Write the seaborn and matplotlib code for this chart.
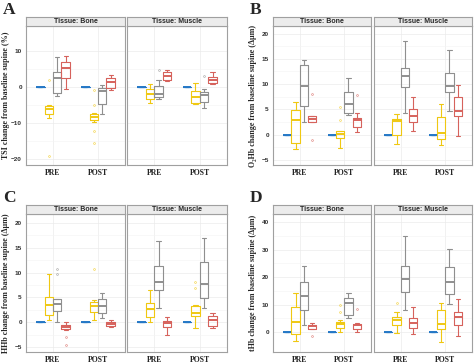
import matplotlib
matplotlib.use("Agg")
import matplotlib.pyplot as plt
import numpy as np
import pandas as pd
import seaborn as sns

# groups drawn in each time point (blue = baseline supine, always zero)
GROUPS = ["G0", "G1", "G2", "G3"]
COLORS = ["#2578c6", "#efc812", "#8f8f8f", "#d6625c"]
TIMES = ["PRE", "POST"]
TISSUES = ["Bone", "Muscle"]

# each box: (lower whisker, q1, median, q3, upper whisker, outliers)
# listed for groups G1, G2, G3 ; G0 is all zeros
BASELINE = (0.0, 0.0, 0.0, 0.0, 0.0, [])

TSI_BONE = {
    "PRE": [(-8.5, -7.6, -6.2, -5.2, -5.0, [1.9, -19.1]),
            (-2.6, -1.7, 2.4, 4.2, 8.4, []),
            (-0.6, 2.4, 5.3, 7.0, 8.6, [])],
    "POST": [(-9.6, -9.2, -8.2, -7.6, -7.2, [-0.8, -4.9, -12.2, -15.6]),
             (-7.6, -4.8, -1.1, -0.2, 0.6, []),
             (-0.8, -0.2, 1.5, 2.4, 3.4, [])],
}
TSI_MUSCLE = {
    "PRE": [(-4.4, -3.4, -2.0, -0.6, 0.8, []),
            (-3.3, -2.7, -2.0, 0.2, 1.9, [4.7]),
            (1.8, 2.1, 3.1, 4.3, 4.7, [])],
    "POST": [(-4.6, -4.4, -2.7, -1.0, 1.2, []),
             (-5.9, -4.1, -2.2, -1.3, -0.6, [3.1]),
             (0.8, 1.2, 2.1, 2.9, 4.3, [])],
}

O2HB_BONE = {
    "PRE": [(-2.8, -1.7, 2.9, 4.8, 6.4, []),
            (2.6, 5.6, 9.6, 13.8, 14.7, []),
            (2.6, 2.6, 3.1, 3.6, 3.6, [8.1, -1.1])],
    "POST": [(-2.6, -0.7, 0.1, 0.7, 0.7, [5.4, 3.0]),
             (3.8, 4.2, 6.1, 8.4, 11.3, []),
             (0.5, 1.5, 3.0, 3.3, 4.2, [7.9])],
}
O2HB_MUSCLE = {
    "PRE": [(-1.9, 0.0, 2.7, 3.1, 4.0, []),
            (4.2, 9.5, 11.7, 13.2, 18.5, []),
            (0.8, 2.6, 3.6, 5.1, 7.4, [])],
    "POST": [(-2.0, -0.9, 0.3, 3.4, 6.1, []),
             (4.6, 8.4, 9.7, 12.2, 16.8, []),
             (-0.2, 3.6, 4.6, 7.4, 9.9, [])],
}

HHB_BONE = {
    "PRE": [(0.5, 1.5, 3.4, 5.1, 9.7, []),
            (0.1, 2.3, 3.6, 4.6, 4.6, [10.7, 9.7]),
            (-1.6, -1.4, -0.9, -0.5, 0.0, [-3.0, -4.6])],
    "POST": [(0.5, 2.1, 3.2, 4.1, 4.4, [10.7]),
             (0.9, 1.8, 3.2, 4.6, 5.9, []),
             (-0.9, -0.7, -0.3, 0.1, 0.5, [])],
}
HHB_MUSCLE = {
    "PRE": [(0.1, 1.1, 2.6, 3.8, 6.4, []),
            (2.8, 6.4, 8.1, 11.4, 16.4, []),
            (-2.5, -0.9, -0.2, 0.3, 1.1, [])],
    "POST": [(-1.2, 1.3, 1.9, 3.2, 3.4, [8.1, 6.8]),
             (2.8, 4.8, 7.6, 12.1, 16.9, []),
             (-1.2, -0.7, 0.5, 1.3, 1.8, [])],
}

THB_BONE = {
    "PRE": [(-3.2, -0.8, 3.6, 9.2, 14.3, []),
            (2.7, 8.0, 13.1, 18.1, 24.2, []),
            (1.2, 1.2, 2.1, 2.6, 3.2, [-1.2])],
    "POST": [(-0.1, 1.5, 3.1, 3.7, 4.4, [9.9, 7.5]),
             (5.1, 6.3, 10.8, 12.6, 14.2, []),
             (0.1, 1.3, 2.5, 3.1, 3.4, [8.5])],
}
THB_MUSCLE = {
    "PRE": [(-0.4, 2.7, 4.5, 5.7, 7.4, [10.5]),
            (8.0, 14.7, 19.5, 24.2, 35.0, []),
            (-0.6, 1.6, 3.3, 5.0, 9.0, [])],
    "POST": [(-3.6, 1.2, 3.0, 8.1, 10.5, []),
             (10.1, 14.0, 18.3, 23.6, 30.4, []),
             (-1.4, 2.7, 5.6, 7.4, 11.9, [])],
}

W, H = 474, 364
SERIF = ["Liberation Serif", "DejaVu Serif"]
SANS = ["Liberation Sans", "DejaVu Sans"]


def box_sample(lo, q1, med, q3, hi, out):
    # observations whose quartiles / whiskers / outliers are the read values
    low = sorted(v for v in out if v < q1)
    high = sorted(v for v in out if v > q3)
    m = max(len(low), len(high)) + 1
    return (low + [lo] * (m - len(low)) + [q1] * m + [med]
            + [q3] * m + [hi] * (m - len(high)) + high)


def to_frame(bone, muscle):
    rows = []
    for tissue, d in zip(TISSUES, [bone, muscle]):
        for time in TIMES:
            for g, box in zip(GROUPS, [BASELINE] + d[time]):
                for v in box_sample(*box):
                    rows.append((tissue, time, g, v))
    return pd.DataFrame(rows, columns=["tissue", "time", "group", "value"])


def rect(x0, y0, x1, y1):
    return [x0 / W, 1 - y1 / H, (x1 - x0) / W, (y1 - y0) / H]


def draw_panel(fig, letter, ylabel, bone, muscle, ylim, yticks, xs, ytop,
               plot_h=139):
    df = to_frame(bone, muscle)
    strip_h = 9
    plot_bottom = ytop + strip_h + plot_h
    for i, tissue in enumerate(TISSUES):
        x0, x1 = xs[i]
        ax = fig.add_axes(rect(x0, ytop + strip_h, x1, plot_bottom))
        sax = fig.add_axes(rect(x0, ytop, x1, ytop + strip_h))
        sns.boxplot(data=df[df.tissue == tissue], x="time", y="value",
                    hue="group", order=TIMES, hue_order=GROUPS,
                    palette=COLORS, fill=False, width=0.75, linewidth=0.8,
                    flierprops={"marker": "o", "markersize": 1.3,
                                "markeredgewidth": 0.5, "alpha": 0.7},
                    medianprops={"linewidth": 1.4},
                    legend=False, ax=ax)
        ax.set_xlim(-0.6, 1.6)
        ax.set_ylim(*ylim)
        ax.set_yticks(yticks)
        ax.set_yticks([(a + b) / 2 for a, b in zip(yticks[:-1], yticks[1:])],
                      minor=True)
        ax.set_xlabel("")
        ax.set_ylabel("")
        ax.set_axisbelow(True)
        ax.grid(True, which="major", color="#ebebeb", lw=0.5)
        ax.grid(True, which="minor", axis="y", color="#f4f4f4", lw=0.4)
        ax.tick_params(axis="both", length=1.8, width=0.5, color="#555555",
                       pad=1.2)
        ax.tick_params(axis="y", which="minor", length=0)
        for lab in ax.get_xticklabels():
            lab.set_fontfamily(SERIF)
            lab.set_fontweight("bold")
            lab.set_fontsize(5.6)
        if i == 0:
            for lab in ax.get_yticklabels():
                lab.set_fontfamily(SANS)
                lab.set_fontweight("bold")
                lab.set_fontsize(4.6)
                lab.set_color("#333333")
        else:
            ax.set_yticklabels([])
            ax.tick_params(axis="y", length=0)
        for sp in ax.spines.values():
            sp.set_color("#a0a0a0")
            sp.set_linewidth(0.8)

        sax.set_facecolor("#ececec")
        sax.set_xticks([])
        sax.set_yticks([])
        for sp in sax.spines.values():
            sp.set_color("#a0a0a0")
            sp.set_linewidth(0.8)
        sax.text(0.5, 0.45, f"Tissue: {tissue}", ha="center", va="center",
                 fontsize=5.0, fontweight="bold", family=SANS,
                 transform=sax.transAxes)

    xl = xs[0][0] - 20
    fig.text(xl / W, 1 - (ytop + strip_h + plot_bottom) / 2 / H, ylabel,
             rotation=90, ha="center", va="center", fontsize=5.8,
             fontweight="bold", family=SERIF)
    fig.text((xs[0][0] - 23) / W, 1 - (ytop - 15) / H, letter,
             ha="left", va="top", fontsize=12.5, fontweight="bold",
             family=SERIF)


def main():
    sns.set_style("white")
    fig = plt.figure(figsize=(W / 100, H / 100), dpi=100)
    left = [(26, 125), (127, 227)]
    right = [(273, 371), (374, 472)]
    draw_panel(fig, "A", "TSI change from baseline supine (%)",
               TSI_BONE, TSI_MUSCLE, (-21.7, 17), [-20, -10, 0, 10], left, 17)
    draw_panel(fig, "B", "O\u2082Hb change from baseline supine (\u0394\u03bcm)",
               O2HB_BONE, O2HB_MUSCLE, (-6, 21.5), [-5, 0, 5, 10, 15, 20],
               right, 17)
    draw_panel(fig, "C", "HHb change from baseline supine (\u0394\u03bcm)",
               HHB_BONE, HHB_MUSCLE, (-6, 21.8), [-5, 0, 5, 10, 15, 20],
               left, 205, plot_h=138)
    draw_panel(fig, "D", "tHb change from baseline supine (\u0394\u03bcm)",
               THB_BONE, THB_MUSCLE, (-7.2, 43), [0, 10, 20, 30, 40],
               right, 205, plot_h=138)
    fig.savefig("out.png", dpi=100)


if __name__ == '__main__':
    main()
